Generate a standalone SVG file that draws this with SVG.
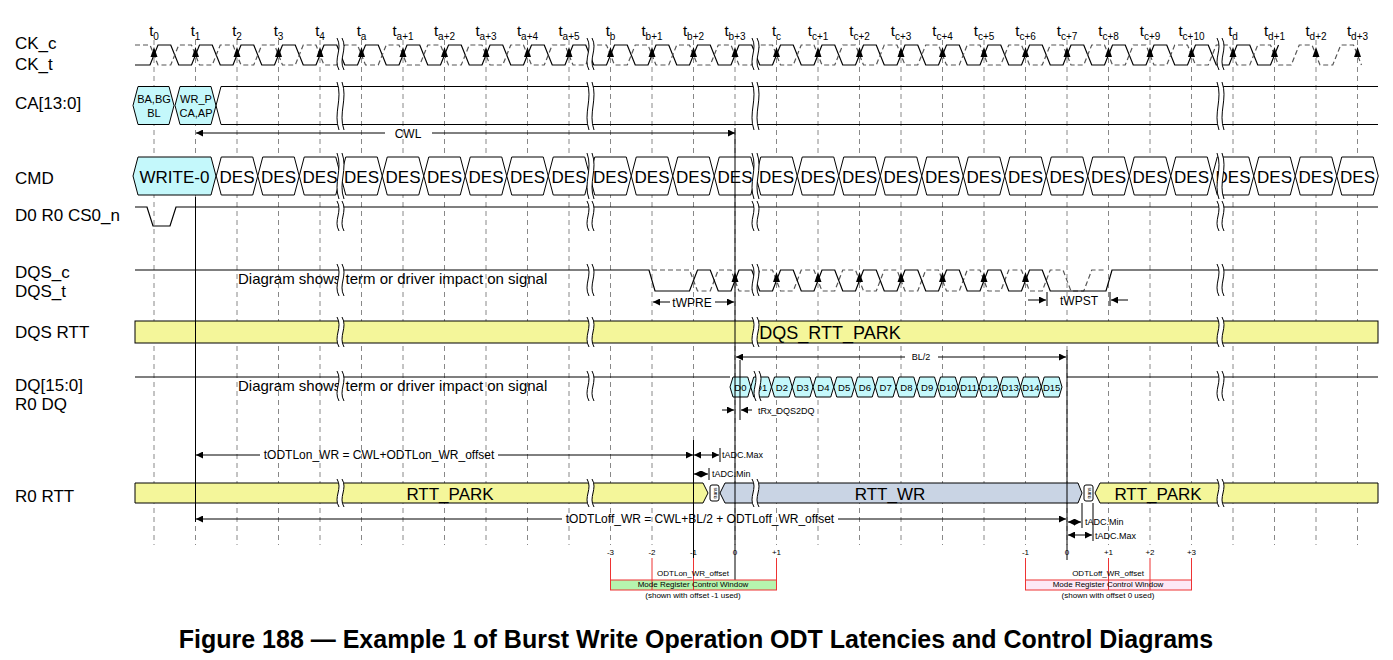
<svg xmlns="http://www.w3.org/2000/svg" xmlns:xlink="http://www.w3.org/1999/xlink" width="1393" height="660" viewBox="0 0 1393 660">
<style>
text{font-family:"Liberation Sans",Arial,sans-serif;fill:#000}
.lbl{font-size:17px}
.tk{font-size:15px;text-anchor:middle}
.sub{font-size:10px}
.w{fill:none;stroke:#000;stroke-width:1.2}
.grid{stroke:#888;stroke-width:1;stroke-dasharray:5,4}
.cy{fill:#c4f8fb;stroke:#000;stroke-width:1}
.yl{fill:#f4f69a;stroke:#000;stroke-width:1}
.bl{fill:#c9d4e4;stroke:#000;stroke-width:1}
.des{font-size:17px;text-anchor:middle}
.s9{font-size:9px}
.s12{font-size:12px}
.s8{font-size:8px;text-anchor:middle}
.ar{stroke:#000;stroke-width:1;fill:none}
.rd{stroke:#e33;stroke-width:1}
</style>
<defs>
<marker id="m" viewBox="0 0 10 10" refX="10" refY="5" markerWidth="9" markerHeight="7" orient="auto-start-reverse" markerUnits="userSpaceOnUse"><path d="M0,0 L10,5 L0,10 z"/></marker>
<path id="up" d="M0,0 l-3.5,10 h7 z"/>
<path id="hex" d="M-20.75,0 l5,-19 h31.5 l5,19 l-5,19 h-31.5 z" class="w" style="fill:#fff;stroke-width:1"/>
<g id="brk">
<path d="M-3,0 C3,0.35 -7,0.65 -1,1 L4,1 C-2,0.65 8,0.35 2,0 Z" fill="#fff"/>
<path d="M-3,0 C3,0.35 -7,0.65 -1,1 M2,0 C8,0.35 -2,0.65 4,1" fill="none" stroke="#000" stroke-width="1" vector-effect="non-scaling-stroke"/>
</g>
</defs>
<rect width="1393" height="660" fill="#fff"/>

<g id="grid" class="grid">
<path d="M154,40V545M195.5,40V545M237,40V545M278.5,40V545M320,40V545M361.5,40V545M403,40V545M444.5,40V545M486,40V545M527.5,40V545M569,40V545M610.5,40V545M652,40V545M693.5,40V545M735,40V545M776.5,40V545M818,40V545M859.5,40V545M901,40V545M942.5,40V545M984,40V545M1025.5,40V545M1067,40V545M1108.5,40V545M1150,40V545M1191.5,40V545M1233,40V545M1274.5,40V545M1316,40V545M1357.5,40V545"/>
</g>

<g id="ticklabels">
<text class="tk" x="154" y="36">t<tspan class="sub" dy="4">0</tspan></text>
<text class="tk" x="195.5" y="36">t<tspan class="sub" dy="4">1</tspan></text>
<text class="tk" x="237" y="36">t<tspan class="sub" dy="4">2</tspan></text>
<text class="tk" x="278.5" y="36">t<tspan class="sub" dy="4">3</tspan></text>
<text class="tk" x="320" y="36">t<tspan class="sub" dy="4">4</tspan></text>
<text class="tk" x="361.5" y="36">t<tspan class="sub" dy="4">a</tspan></text>
<text class="tk" x="403" y="36">t<tspan class="sub" dy="4">a+1</tspan></text>
<text class="tk" x="444.5" y="36">t<tspan class="sub" dy="4">a+2</tspan></text>
<text class="tk" x="486" y="36">t<tspan class="sub" dy="4">a+3</tspan></text>
<text class="tk" x="527.5" y="36">t<tspan class="sub" dy="4">a+4</tspan></text>
<text class="tk" x="569" y="36">t<tspan class="sub" dy="4">a+5</tspan></text>
<text class="tk" x="610.5" y="36">t<tspan class="sub" dy="4">b</tspan></text>
<text class="tk" x="652" y="36">t<tspan class="sub" dy="4">b+1</tspan></text>
<text class="tk" x="693.5" y="36">t<tspan class="sub" dy="4">b+2</tspan></text>
<text class="tk" x="735" y="36">t<tspan class="sub" dy="4">b+3</tspan></text>
<text class="tk" x="776.5" y="36">t<tspan class="sub" dy="4">c</tspan></text>
<text class="tk" x="818" y="36">t<tspan class="sub" dy="4">c+1</tspan></text>
<text class="tk" x="859.5" y="36">t<tspan class="sub" dy="4">c+2</tspan></text>
<text class="tk" x="901" y="36">t<tspan class="sub" dy="4">c+3</tspan></text>
<text class="tk" x="942.5" y="36">t<tspan class="sub" dy="4">c+4</tspan></text>
<text class="tk" x="984" y="36">t<tspan class="sub" dy="4">c+5</tspan></text>
<text class="tk" x="1025.5" y="36">t<tspan class="sub" dy="4">c+6</tspan></text>
<text class="tk" x="1067" y="36">t<tspan class="sub" dy="4">c+7</tspan></text>
<text class="tk" x="1108.5" y="36">t<tspan class="sub" dy="4">c+8</tspan></text>
<text class="tk" x="1150" y="36">t<tspan class="sub" dy="4">c+9</tspan></text>
<text class="tk" x="1191.5" y="36">t<tspan class="sub" dy="4">c+10</tspan></text>
<text class="tk" x="1233" y="36">t<tspan class="sub" dy="4">d</tspan></text>
<text class="tk" x="1274.5" y="36">t<tspan class="sub" dy="4">d+1</tspan></text>
<text class="tk" x="1316" y="36">t<tspan class="sub" dy="4">d+2</tspan></text>
<text class="tk" x="1357.5" y="36">t<tspan class="sub" dy="4">d+3</tspan></text>
</g>

<g id="rowlabels" class="lbl">
<text class="lbl" x="15" y="49">CK_c</text>
<text class="lbl" x="15" y="70">CK_t</text>
<text class="lbl" x="15" y="109">CA[13:0]</text>
<text class="lbl" x="15" y="184">CMD</text>
<text class="lbl" x="15" y="221">D0 R0 CS0_n</text>
<text class="lbl" x="15" y="278">DQS_c</text>
<text class="lbl" x="15" y="297">DQS_t</text>
<text class="lbl" x="15" y="338">DQS RTT</text>
<text class="lbl" x="15" y="391">DQ[15:0]</text>
<text class="lbl" x="15" y="410">R0 DQ</text>
<text class="lbl" x="15" y="502">R0 RTT</text>
</g>

<g id="clock">
<path class="w" d="M135,65 H150 l8,-20 h12.75 l8,20 h12.75 l8,-20 h12.75 l8,20 h12.75 l8,-20 h12.75 l8,20 h12.75 l8,-20 h12.75 l8,20 h12.75 l8,-20 h12.75 l8,20 h12.75 l8,-20 h12.75 l8,20 h12.75 l8,-20 h12.75 l8,20 h12.75 l8,-20 h12.75 l8,20 h12.75 l8,-20 h12.75 l8,20 h12.75 l8,-20 h12.75 l8,20 h12.75 l8,-20 h12.75 l8,20 h12.75 l8,-20 h12.75 l8,20 h12.75 l8,-20 h12.75 l8,20 h12.75 l8,-20 h12.75 l8,20 h12.75 l8,-20 h12.75 l8,20 h12.75 l8,-20 h12.75 l8,20 h12.75 l8,-20 h12.75 l8,20 h12.75 l8,-20 h12.75 l8,20 h12.75 l8,-20 h12.75 l8,20 h12.75 l8,-20 h12.75 l8,20 h12.75 l8,-20 h12.75 l8,20 h12.75 l8,-20 h12.75 l8,20 h12.75 l8,-20 h12.75 l8,20 h12.75 l8,-20 h12.75 l8,20 h12.75 l8,-20 h12.75 l8,20 h12.75 l8,-20 h12.75 l8,20 h12.75 l8,-20 h12.75 l8,20 h12.75 l8,-20"/>
<path class="w" stroke-dasharray="5,3" style="stroke:#555" d="M135,45 H150 l8,20 h12.75 l8,-20 h12.75 l8,20 h12.75 l8,-20 h12.75 l8,20 h12.75 l8,-20 h12.75 l8,20 h12.75 l8,-20 h12.75 l8,20 h12.75 l8,-20 h12.75 l8,20 h12.75 l8,-20 h12.75 l8,20 h12.75 l8,-20 h12.75 l8,20 h12.75 l8,-20 h12.75 l8,20 h12.75 l8,-20 h12.75 l8,20 h12.75 l8,-20 h12.75 l8,20 h12.75 l8,-20 h12.75 l8,20 h12.75 l8,-20 h12.75 l8,20 h12.75 l8,-20 h12.75 l8,20 h12.75 l8,-20 h12.75 l8,20 h12.75 l8,-20 h12.75 l8,20 h12.75 l8,-20 h12.75 l8,20 h12.75 l8,-20 h12.75 l8,20 h12.75 l8,-20 h12.75 l8,20 h12.75 l8,-20 h12.75 l8,20 h12.75 l8,-20 h12.75 l8,20 h12.75 l8,-20 h12.75 l8,20 h12.75 l8,-20 h12.75 l8,20 h12.75 l8,-20 h12.75 l8,20 h12.75 l8,-20 h12.75 l8,20 h12.75 l8,-20 h12.75 l8,20 h12.75 l8,-20 h12.75 l8,20 h12.75 l8,-20 h12.75 l8,20 h12.75 l8,-20 h12.75 l8,20 h12.75 l8,-20 h12.75 l8,20"/>
<use href="#up" x="154" y="47"/><use href="#up" x="195.5" y="47"/><use href="#up" x="237" y="47"/><use href="#up" x="278.5" y="47"/><use href="#up" x="320" y="47"/><use href="#up" x="361.5" y="47"/><use href="#up" x="403" y="47"/><use href="#up" x="444.5" y="47"/><use href="#up" x="486" y="47"/><use href="#up" x="527.5" y="47"/><use href="#up" x="569" y="47"/><use href="#up" x="610.5" y="47"/><use href="#up" x="652" y="47"/><use href="#up" x="693.5" y="47"/><use href="#up" x="735" y="47"/><use href="#up" x="776.5" y="47"/><use href="#up" x="818" y="47"/><use href="#up" x="859.5" y="47"/><use href="#up" x="901" y="47"/><use href="#up" x="942.5" y="47"/><use href="#up" x="984" y="47"/><use href="#up" x="1025.5" y="47"/><use href="#up" x="1067" y="47"/><use href="#up" x="1108.5" y="47"/><use href="#up" x="1150" y="47"/><use href="#up" x="1191.5" y="47"/><use href="#up" x="1233" y="47"/><use href="#up" x="1274.5" y="47"/><use href="#up" x="1316" y="47"/><use href="#up" x="1357.5" y="47"/>
</g>

<g id="ca">
<path class="cy" d="M133,105.5 l5,-19 h31 l5,19 l-5,19 h-31 z"/>
<path class="cy" d="M175,105.5 l5,-19 h31 l5,19 l-5,19 h-31 z"/>
<text x="154" y="103" font-size="11" text-anchor="middle">BA,BG</text>
<text x="154" y="117" font-size="11" text-anchor="middle">BL</text>
<text x="196" y="103" font-size="11" text-anchor="middle">WR_P</text>
<text x="196" y="117" font-size="11" text-anchor="middle">CA,AP</text>
<path class="w" style="stroke-width:1" d="M1378,86.5 H221 l-5,19 l5,19 H1378"/>
</g>

<g id="cmd">
<path class="cy" d="M133,176 l5,-19 h73 l5,19 l-5,19 h-73 z"/>
<text x="174.5" y="183" class="des">WRITE-0</text>
<use href="#hex" x="237" y="176"/><use href="#hex" x="278.5" y="176"/><use href="#hex" x="320" y="176"/><use href="#hex" x="361.5" y="176"/><use href="#hex" x="403" y="176"/><use href="#hex" x="444.5" y="176"/><use href="#hex" x="486" y="176"/><use href="#hex" x="527.5" y="176"/><use href="#hex" x="569" y="176"/><use href="#hex" x="610.5" y="176"/><use href="#hex" x="652" y="176"/><use href="#hex" x="693.5" y="176"/><use href="#hex" x="735" y="176"/><use href="#hex" x="776.5" y="176"/><use href="#hex" x="818" y="176"/><use href="#hex" x="859.5" y="176"/><use href="#hex" x="901" y="176"/><use href="#hex" x="942.5" y="176"/><use href="#hex" x="984" y="176"/><use href="#hex" x="1025.5" y="176"/><use href="#hex" x="1067" y="176"/><use href="#hex" x="1108.5" y="176"/><use href="#hex" x="1150" y="176"/><use href="#hex" x="1191.5" y="176"/><use href="#hex" x="1233" y="176"/><use href="#hex" x="1274.5" y="176"/><use href="#hex" x="1316" y="176"/><use href="#hex" x="1357.5" y="176"/>
<text class="des" y="183"><tspan x="237">DES</tspan><tspan x="278.5">DES</tspan><tspan x="320">DES</tspan><tspan x="361.5">DES</tspan><tspan x="403">DES</tspan><tspan x="444.5">DES</tspan><tspan x="486">DES</tspan><tspan x="527.5">DES</tspan><tspan x="569">DES</tspan><tspan x="610.5">DES</tspan><tspan x="652">DES</tspan><tspan x="693.5">DES</tspan><tspan x="735">DES</tspan><tspan x="776.5">DES</tspan><tspan x="818">DES</tspan><tspan x="859.5">DES</tspan><tspan x="901">DES</tspan><tspan x="942.5">DES</tspan><tspan x="984">DES</tspan><tspan x="1025.5">DES</tspan><tspan x="1067">DES</tspan><tspan x="1108.5">DES</tspan><tspan x="1150">DES</tspan><tspan x="1191.5">DES</tspan><tspan x="1233">DES</tspan><tspan x="1274.5">DES</tspan><tspan x="1316">DES</tspan><tspan x="1357.5">DES</tspan></text>
</g>

<g id="cs">
<path class="w" d="M135,207 H147 L153,226 H170 L176,207 H1378"/>
</g>

<g id="dqs">
<path class="w" stroke-dasharray="5,3" style="stroke:#555" d="M652,270 H689.5 l8,21 h12.75 l8,-21 h12.75 l8,21 h12.75 l8,-21 h12.75 l8,21 h12.75 l8,-21 h12.75 l8,21 h12.75 l8,-21 h12.75 l8,21 h12.75 l8,-21 h12.75 l8,21 h12.75 l8,-21 h12.75 l8,21 h12.75 l8,-21 h12.75 l8,21 h12.75 l8,-21 h12.75 l8,21 h12.75 l8,-21 h12.75 l8,21 h12.75 l8,-21 h12.75"/>
<path class="w" d="M135,270 H649 L655,291 H689.5 l8,-21 h12.75 l8,21 h12.75 l8,-21 h12.75 l8,21 h12.75 l8,-21 h12.75 l8,21 h12.75 l8,-21 h12.75 l8,21 h12.75 l8,-21 h12.75 l8,21 h12.75 l8,-21 h12.75 l8,21 h12.75 l8,-21 h12.75 l8,21 h12.75 l8,-21 h12.75 l8,21 h12.75 l8,-21 h12.75 l8,21 h12.75 H1106 L1112,270 H1378"/>
<use href="#up" x="735" y="272"/><use href="#up" x="776.5" y="272"/><use href="#up" x="818" y="272"/><use href="#up" x="859.5" y="272"/><use href="#up" x="901" y="272"/><use href="#up" x="942.5" y="272"/><use href="#up" x="984" y="272"/><use href="#up" x="1025.5" y="272"/>
<text x="238" y="284" font-size="15">Diagram shows term or driver impact on signal</text>
</g>

<g id="dqsrtt">
<rect class="yl" x="135" y="321" width="1243" height="22"/>
<text x="830" y="339" font-size="18" text-anchor="middle">DQS_RTT_PARK</text>
</g>

<g id="dq">
<path class="w" d="M135,377 H730 M1067,377 H1378"/>
<text x="238" y="391" font-size="15">Diagram shows term or driver impact on signal</text>
<g font-size="9.5" text-anchor="middle">
<path class="cy" d="M730,387 l3,-10 h14.75 l3,10 l-3,10 h-14.75 z"/><text x="740.4" y="391">D0</text>
<path class="cy" d="M750.75,387 l3,-10 h14.75 l3,10 l-3,10 h-14.75 z"/><text x="761.1" y="391">D1</text>
<path class="cy" d="M771.5,387 l3,-10 h14.75 l3,10 l-3,10 h-14.75 z"/><text x="781.9" y="391">D2</text>
<path class="cy" d="M792.25,387 l3,-10 h14.75 l3,10 l-3,10 h-14.75 z"/><text x="802.6" y="391">D3</text>
<path class="cy" d="M813,387 l3,-10 h14.75 l3,10 l-3,10 h-14.75 z"/><text x="823.4" y="391">D4</text>
<path class="cy" d="M833.75,387 l3,-10 h14.75 l3,10 l-3,10 h-14.75 z"/><text x="844.1" y="391">D5</text>
<path class="cy" d="M854.5,387 l3,-10 h14.75 l3,10 l-3,10 h-14.75 z"/><text x="864.9" y="391">D6</text>
<path class="cy" d="M875.25,387 l3,-10 h14.75 l3,10 l-3,10 h-14.75 z"/><text x="885.6" y="391">D7</text>
<path class="cy" d="M896,387 l3,-10 h14.75 l3,10 l-3,10 h-14.75 z"/><text x="906.4" y="391">D8</text>
<path class="cy" d="M916.75,387 l3,-10 h14.75 l3,10 l-3,10 h-14.75 z"/><text x="927.1" y="391">D9</text>
<path class="cy" d="M937.5,387 l3,-10 h14.75 l3,10 l-3,10 h-14.75 z"/><text x="947.9" y="391">D10</text>
<path class="cy" d="M958.25,387 l3,-10 h14.75 l3,10 l-3,10 h-14.75 z"/><text x="968.6" y="391">D11</text>
<path class="cy" d="M979,387 l3,-10 h14.75 l3,10 l-3,10 h-14.75 z"/><text x="989.4" y="391">D12</text>
<path class="cy" d="M999.75,387 l3,-10 h14.75 l3,10 l-3,10 h-14.75 z"/><text x="1010.1" y="391">D13</text>
<path class="cy" d="M1020.5,387 l3,-10 h14.75 l3,10 l-3,10 h-14.75 z"/><text x="1030.9" y="391">D14</text>
<path class="cy" d="M1041.25,387 l3,-10 h14.75 l3,10 l-3,10 h-14.75 z"/><text x="1051.6" y="391">D15</text>
</g>
</g>

<g id="r0rtt">
<path class="yl" d="M135,483 H703 L708,493 L703,503 H135 Z"/>
<rect x="710" y="485" width="9" height="16" rx="2" fill="#fff" stroke="#000" stroke-width="1"/>
<text transform="translate(716.5,493) rotate(-90)" font-size="5" text-anchor="middle">trans</text>
<path class="bl" d="M725,483 H1078 L1082,493 L1078,503 H725 L720,493 Z"/>
<rect x="1084" y="485" width="9" height="16" rx="2" fill="#fff" stroke="#000" stroke-width="1"/>
<text transform="translate(1090.5,493) rotate(-90)" font-size="5" text-anchor="middle">trans</text>
<path class="yl" d="M1100,483 H1378 V503 H1100 L1095,493 Z"/>
<text x="450" y="500" font-size="17" text-anchor="middle">RTT_PARK</text>
<text x="890" y="500" font-size="17" text-anchor="middle">RTT_WR</text>
<text x="1158" y="500" font-size="17" text-anchor="middle">RTT_PARK</text>
</g>

<g id="breaks">
<use href="#brk" transform="translate(340,38) scale(1,32)"/><use href="#brk" transform="translate(590,38) scale(1,32)"/><use href="#brk" transform="translate(755,38) scale(1,32)"/><use href="#brk" transform="translate(1220,38) scale(1,32)"/>
<use href="#brk" transform="translate(340,82) scale(1,48)"/><use href="#brk" transform="translate(590,82) scale(1,48)"/><use href="#brk" transform="translate(755,82) scale(1,48)"/><use href="#brk" transform="translate(1220,82) scale(1,48)"/>
<use href="#brk" transform="translate(340,153) scale(1,46)"/><use href="#brk" transform="translate(590,153) scale(1,46)"/><use href="#brk" transform="translate(755,153) scale(1,46)"/><use href="#brk" transform="translate(1220,153) scale(1,46)"/>
<use href="#brk" transform="translate(340,201) scale(1,30)"/><use href="#brk" transform="translate(590,201) scale(1,30)"/><use href="#brk" transform="translate(755,201) scale(1,30)"/><use href="#brk" transform="translate(1220,201) scale(1,30)"/>
<use href="#brk" transform="translate(340,264) scale(1,32)"/><use href="#brk" transform="translate(590,264) scale(1,32)"/><use href="#brk" transform="translate(755,264) scale(1,32)"/><use href="#brk" transform="translate(1220,264) scale(1,32)"/>
<use href="#brk" transform="translate(340,317) scale(1,30)"/><use href="#brk" transform="translate(590,317) scale(1,30)"/><use href="#brk" transform="translate(755,317) scale(1,30)"/><use href="#brk" transform="translate(1220,317) scale(1,30)"/>
<use href="#brk" transform="translate(340,371) scale(1,30)"/><use href="#brk" transform="translate(590,371) scale(1,30)"/><use href="#brk" transform="translate(757,371) scale(1,30)"/><use href="#brk" transform="translate(1220,371) scale(1,30)"/>
<use href="#brk" transform="translate(340,479) scale(1,28)"/><use href="#brk" transform="translate(590,479) scale(1,28)"/><use href="#brk" transform="translate(755,479) scale(1,28)"/><use href="#brk" transform="translate(1220,479) scale(1,28)"/>
</g>

<g id="connectors">
<path class="ar" d="M195.5,197 V522 M735,128 V590 M693.5,440 V560 M1067,350 V560 M740,360 V420 M1047,292 V306 M1110,292 V306 M720,448 V462 M709,468 V480 M1082,503 V528 M1093,503 V541"/>
<path class="ar" marker-start="url(#m)" d="M196,133 H385 M432,133 H735" marker-end="url(#m)"/>
<path class="ar" marker-start="url(#m)" d="M653,302 H670"/><path class="ar" marker-end="url(#m)" d="M715,302 H734"/>
<path class="ar" marker-end="url(#m)" d="M1028,300 H1046"/><path class="ar" marker-end="url(#m)" d="M1128,300 H1111"/>
<path class="ar" marker-start="url(#m)" d="M736,357 H905"/><path class="ar" marker-end="url(#m)" d="M938,357 H1066"/>
<path class="ar" marker-end="url(#m)" d="M722,410 H734"/><path class="ar" marker-end="url(#m)" d="M752,410 H741"/>
<path class="ar" marker-start="url(#m)" d="M196,455 H260"/><path class="ar" marker-end="url(#m)" d="M498,455 H693"/>
<path class="ar" marker-start="url(#m)" marker-end="url(#m)" d="M694,455 H719"/>
<path class="ar" marker-start="url(#m)" marker-end="url(#m)" d="M694,474 H708"/>
<path class="ar" marker-start="url(#m)" d="M196,519 H562"/><path class="ar" marker-end="url(#m)" d="M838,519 H1066"/>
<path class="ar" marker-start="url(#m)" marker-end="url(#m)" d="M1068,522 H1081"/>
<path class="ar" marker-start="url(#m)" marker-end="url(#m)" d="M1068,535 H1092"/>
</g>

<g id="annotations">
<text x="408" y="138" class="s12" text-anchor="middle">CWL</text>
<text x="692" y="307" class="s12" text-anchor="middle">tWPRE</text>
<text x="1079" y="305" class="s12" text-anchor="middle">tWPST</text>
<text x="921" y="360" class="s9" text-anchor="middle">BL/2</text>
<text x="758" y="414" class="s9">tRx_DQS2DQ</text>
<text x="379" y="459" class="s12" text-anchor="middle">tODTLon_WR = CWL+ODTLon_WR_offset</text>
<text x="722" y="458" class="s9">tADC.Max</text>
<text x="712" y="477" class="s9">tADC.Min</text>
<text x="700" y="523" class="s12" text-anchor="middle">tODTLoff_WR = CWL+BL/2 + ODTLoff_WR_offset</text>
<text x="1085" y="525" class="s9">tADC.Min</text>
<text x="1095" y="539" class="s9">tADC.Max</text>
</g>

<g id="win-on">
<rect x="610.5" y="580" width="166" height="10" fill="#b6f5ae" stroke="#e33"/>
<path class="rd" d="M610.5,558V590M652,558V590M693.5,558V590M776.5,558V590"/>
<text class="s8" y="555"><tspan x="610.5">-3</tspan><tspan x="652">-2</tspan><tspan x="693.5">-1</tspan><tspan x="735">0</tspan><tspan x="776.5">+1</tspan></text>
<text class="s8" x="693" y="576">ODTLon_WR_offset</text>
<text class="s8" x="693" y="587">Mode Register Control Window</text>
<text class="s8" x="693" y="598">(shown with offset -1 used)</text>
</g>
<g id="win-off">
<rect x="1025.5" y="580" width="166" height="10" fill="#fde8f6" stroke="#e33"/>
<path class="rd" d="M1025.5,558V590M1108.5,558V590M1150,558V590M1191.5,558V590"/>
<text class="s8" y="555"><tspan x="1025.5">-1</tspan><tspan x="1067">0</tspan><tspan x="1108.5">+1</tspan><tspan x="1150">+2</tspan><tspan x="1191.5">+3</tspan></text>
<text class="s8" x="1108" y="576">ODTLoff_WR_offset</text>
<text class="s8" x="1108" y="587">Mode Register Control Window</text>
<text class="s8" x="1108" y="598">(shown with offset 0 used)</text>
</g>

<text x="696" y="648" font-size="25" font-weight="bold" text-anchor="middle">Figure 188 — Example 1 of Burst Write Operation ODT Latencies and Control Diagrams</text>
</svg>
